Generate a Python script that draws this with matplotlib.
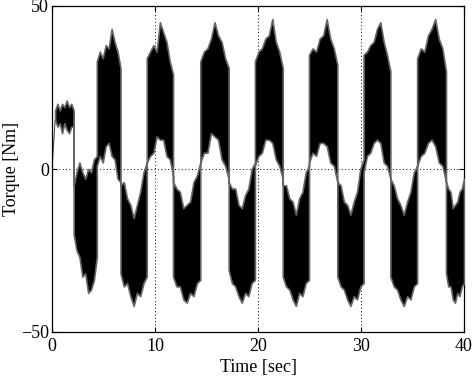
# Torque vs time (envelope of the measured signal)

import numpy as np
import matplotlib
matplotlib.use('Agg')
import matplotlib.pyplot as plt

# Block boundaries [sec]
block_start = [0.3, 2.1, 4.35, 6.65, 9.2, 11.75, 14.4, 17.15, 19.7, 22.4, 24.95, 27.7, 30.25, 32.85, 35.45, 38.25]
block_end = block_start[1:] + [40.0]

# Upper / lower envelope of each block, 9 samples evenly spread over the block [Nm]
upper = [
    [18, 20, 18, 20, 19, 21, 19, 20, 18],
    [-5, -1, 2, -1, -3, 0, -1, 3, 4],
    [33, 36, 34, 38, 37, 43, 39, 36, 31],
    [-5, -4, -9, -11, -15, -11, -7, -1, 2],
    [34, 36, 38, 36, 45, 42, 39, 33, 29],
    [-4, -6, -7, -12, -11, -10, -4, -2, 2],
    [33, 36, 37, 40, 45, 41, 39, 34, 31],
    [-4, -6, -6, -11, -12, -8, -6, 0, 2],
    [33, 36, 37, 40, 41, 46, 39, 36, 31],
    [-5, -5, -9, -10, -14, -9, -7, -1, 1],
    [35, 37, 36, 40, 41, 46, 40, 37, 32],
    [-4, -5, -10, -11, -14, -10, -7, 0, 3],
    [35, 36, 38, 39, 43, 45, 39, 35, 30],
    [-3, -5, -9, -11, -14, -10, -7, -1, 1],
    [34, 37, 36, 41, 43, 46, 40, 37, 30],
    [-4, -6, -7, -12, -11, -10, -7, -6, -3],
]
lower = [
    [15, 13, 14, 11, 14, 12, 11, 13, 13],
    [-20, -25, -27, -33, -32, -38, -37, -34, -27],
    [1, 4, 2, 7, 8, 4, 3, -3, -4],
    [-32, -36, -35, -39, -42, -38, -39, -35, -33],
    [2, 4, 5, 10, 9, 9, 4, 3, -2],
    [-33, -36, -36, -40, -41, -38, -39, -35, -34],
    [2, 5, 5, 11, 10, 9, 3, 1, -3],
    [-31, -35, -36, -39, -41, -38, -39, -35, -34],
    [1, 4, 5, 9, 9, 8, 3, 1, -3],
    [-33, -36, -37, -40, -42, -38, -39, -35, -34],
    [2, 5, 4, 8, 8, 7, 2, 1, -4],
    [-33, -36, -37, -40, -42, -39, -40, -36, -35],
    [-1, 4, 5, 8, 9, 8, 2, 1, -3],
    [-33, -36, -37, -40, -42, -39, -40, -36, -35],
    [1, 4, 5, 8, 9, 7, 2, 1, -4],
    [-32, -36, -36, -40, -41, -38, -39, -36, -35],
]

# start-up ramp before the first plateau
ramp_t = [0.0, 0.3]
ramp_y = [0.0, 15.0]

plt.rcParams['font.family'] = ['Liberation Serif', 'DejaVu Serif']
plt.rcParams['font.size'] = 13
plt.rcParams['axes.unicode_minus'] = True

fig = plt.figure(figsize=(4.74, 3.76), dpi=100)
ax = fig.add_axes([52 / 474, 1 - 332 / 376, 412 / 474, 326 / 376])

# grid first so the signal covers it
for xg in [10, 20, 30]:
    ax.axvline(xg, color='k', lw=0.7, ls=(0, (1, 2.5)), zorder=1)
ax.axhline(0, color='k', lw=0.7, ls=(0, (1, 2.5)), zorder=1)

t_all = []
up_all = []
lo_all = []
for s, e, u, l in zip(block_start, block_end, upper, lower):
    t_all.extend(np.linspace(s, e, len(u)))
    up_all.extend(u)
    lo_all.extend(l)

ax.plot(ramp_t, ramp_y, color='0.3', lw=0.8, zorder=2)
ax.fill_between(t_all, lo_all, up_all, facecolor='black', edgecolor='0.4', lw=1.2, zorder=3)

ax.set_xlim(0, 40)
ax.set_ylim(-50, 50)
ax.set_xticks([0, 10, 20, 30, 40])
ax.set_yticks([-50, 0, 50])
ax.tick_params(direction='in', length=3.5, width=0.8, top=True, right=True)
ax.tick_params(axis='x', pad=4)
ax.tick_params(axis='y', pad=2)
for sp in ax.spines.values():
    sp.set_linewidth(0.9)

ax.set_xlabel('Time [sec]', labelpad=3)
ax.set_ylabel('Torque [Nm]')
ax.yaxis.set_label_coords(-0.078, 0.5)

fig.savefig('out.png', dpi=100)
